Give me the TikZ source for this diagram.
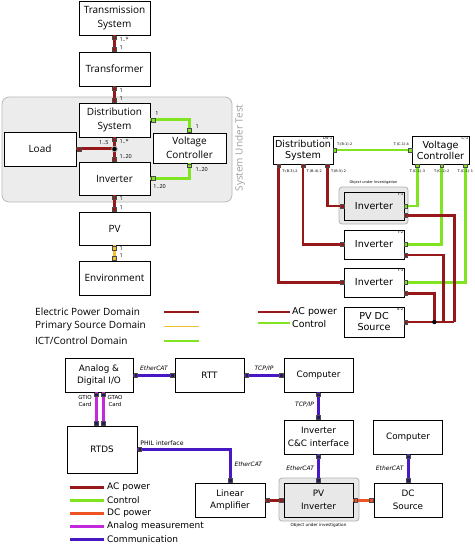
\documentclass[tikz,border=0pt]{standalone}
\usepackage{fontspec}
\setmainfont{DejaVu Sans}[ItalicFont={DejaVu Sans Oblique},BoldFont={DejaVu Sans Bold}]
\newfontfamily\opensans{Open Sans}
\usetikzlibrary{calc}
\definecolor{acred}{RGB}{150,24,24}
\definecolor{ctlgreen}{RGB}{128,228,32}
\definecolor{srcyellow}{RGB}{242,192,48}
\definecolor{dcorange}{RGB}{240,84,36}
\definecolor{anamag}{RGB}{196,40,220}
\definecolor{commblue}{RGB}{72,24,196}
\definecolor{portdark}{RGB}{40,24,100}
\definecolor{sutgrey}{RGB}{236,236,236}
\definecolor{ouigrey}{RGB}{232,232,232}
\newcommand\portsq[2]{\filldraw[draw=black!70,line width=.5pt,fill=#1] #2 ++(-1.8,-1.8) rectangle ++(3.6,3.6);}
\begin{document}
\begin{tikzpicture}[x=1pt,y=-1pt,
  box/.style={draw,line width=.9pt,fill=white,align=center,inner sep=1pt},
  tlbox/.style={box,font=\opensans\fontsize{10}{13.5}\selectfont,minimum width=71pt,minimum height=34pt},
  rbox/.style={box,line width=.8pt,font=\fontsize{9.6}{11}\selectfont,minimum width=60pt,minimum height=29pt},
  bbox/.style={box,line width=.8pt,font=\fontsize{8.8}{12.5}\selectfont,minimum width=69pt,minimum height=34pt},
  mult/.style={text=black,font=\opensans\fontsize{5.5}{6}\selectfont,inner sep=.5pt},
  tag/.style={text=black,font=\fontsize{4}{4}\selectfont,inner sep=.8pt},
  tname/.style={text=black,font=\fontsize{3.5}{4}\selectfont,inner sep=.5pt},
  lbl/.style={text=black,font=\itshape\fontsize{6}{7}\selectfont,inner sep=1pt},
  lbl2/.style={text=black,font=\fontsize{5.5}{7}\selectfont,align=center,inner sep=.5pt},
  tlleg/.style={font=\opensans\fontsize{10}{12}\selectfont,inner sep=0pt,anchor=west},
  leg/.style={font=\fontsize{9}{10}\selectfont,inner sep=0pt,anchor=west},
  pwr/.style={acred,line width=3pt},
  src/.style={srcyellow,line width=3pt},
  ctl/.style={ctlgreen,line width=3pt},
  pwrr/.style={acred,line width=2.5pt},
  ctlr/.style={ctlgreen,line width=2.5pt},
  dcp/.style={dcorange,line width=3pt},
  ana/.style={anamag,line width=3pt},
  comm/.style={commblue,line width=3pt},
  oui/.style={draw=gray!60,fill=gray!18,rounded corners=3pt,line width=.8pt}]
\useasboundingbox (0,0) rectangle (474,545);

\draw[rounded corners=7pt,fill=sutgrey,draw=gray!55,line width=.8pt] (2,97) rectangle (232,202);
\node[rotate=90,text=gray!75,font=\opensans\fontsize{10}{12}\selectfont] (sut) at (240,148) {System Under Test};

\node[tlbox] (trans) at (114.5,18) {Transmission\\System};
\node[tlbox] (xfmr) at (114.5,69) {Transformer};
\node[tlbox] (dist) at (114.5,120) {Distribution\\System};
\node[tlbox,minimum width=72pt] (load) at (40,149) {Load};
\node[tlbox,minimum width=73pt,minimum height=30pt] (vc) at (189.5,148) {Voltage\\Controller};
\node[tlbox,minimum height=33pt] (inv) at (114.5,178.5) {Inverter};
\node[tlbox,minimum height=33pt] (pv) at (114.5,228.5) {PV};
\node[tlbox] (env) at (114.5,278) {Environment};
\coordinate (jct) at (dist.south |- load.east);

\draw[pwr] (trans.south) -- node[mult,pos=.25,right=3pt] {1..*} node[mult,pos=.75,right=3pt] {1} (xfmr.north);
\draw[pwr] (xfmr.south) -- node[mult,pos=.24,right=3pt] {1} node[mult,pos=.72,right=3pt] {1} (dist.north);
\draw[pwr] (dist.south) -- node[mult,pos=.16,right=3pt] {1..*} node[mult,pos=.8,right=3pt] {1..20} (inv.north);
\draw[pwr] (load.east) -- node[mult,pos=.72,above=2pt] {1..5} (jct);
\draw[pwr] (inv.south) -- node[mult,pos=.2,right=3pt] {1} node[mult,pos=.76,right=3pt] {1} (pv.north);
\draw[src] (pv.south) -- node[mult,pos=.2,right=3pt] {1} node[mult,pos=.7,right=3pt] {1} (env.north);
\draw[ctl] (dist.east) -| node[mult,at start,anchor=south west,xshift=3pt,yshift=2pt] {1}
  node[mult,at end,anchor=south west,xshift=4pt,yshift=2pt] {1} (vc.north);
\draw[ctl] (vc.south) |- node[mult,at start,anchor=north west,xshift=4pt,yshift=-2pt] {1..20}
  node[mult,at end,anchor=north west,xshift=1pt,yshift=-4pt] {1..20} (inv.east);
\filldraw[fill=black,draw=gray!60,line width=.8pt] (jct) circle (2.8);

\portsq{acred}{($(trans.south)+(0,2.5)$)}
\portsq{acred}{($(xfmr.north)+(0,-2.5)$)}
\portsq{acred}{($(xfmr.south)+(0,2.5)$)}
\portsq{acred}{($(dist.north)+(0,-2.5)$)}
\portsq{acred}{($(dist.south)+(0,2.5)$)}
\portsq{acred}{($(inv.north)+(0,-2.5)$)}
\portsq{acred}{($(load.east)+(2.5,0)$)}
\portsq{acred}{($(inv.south)+(0,2.5)$)}
\portsq{acred}{($(pv.north)+(0,-2.5)$)}
\portsq{srcyellow}{($(pv.south)+(0,2.5)$)}
\portsq{srcyellow}{($(env.north)+(0,-2.5)$)}
\portsq{ctlgreen}{($(dist.east)+(2.5,0)$)}
\portsq{ctlgreen}{($(vc.north)+(0,-2.5)$)}
\portsq{ctlgreen}{($(vc.south)+(0,2.5)$)}
\portsq{ctlgreen}{($(inv.east)+(2.5,0)$)}

\node[tlleg] (lgep) at (35,312) {Electric Power Domain};
\node[tlleg] (lgps) at (35,326.5) {Primary Source Domain};
\node[tlleg] (lgct) at (35,341) {ICT/Control Domain};
\draw[acred,line width=1.3pt] (164,312) -- (199,312);
\draw[srcyellow,line width=1.3pt] (164,326.5) -- (199,326.5);
\draw[ctlgreen,line width=1.3pt] (164,341) -- (199,341);

\draw[oui] (339,187) rectangle (408,224);
\node[tname,font=\fontsize{3.6}{4}\selectfont] (ouir) at (373.5,183) {Object under Investigation};
\node[rbox,minimum height=28pt] (dsr) at (303,150) {Distribution\\System};
\node[rbox,minimum width=57pt,minimum height=28pt] (vcr) at (440.5,150) {Voltage\\Controller};
\node[rbox,minimum height=28pt,fill=ouigrey] (i1) at (374,206) {Inverter};
\node[rbox] (i2) at (374,244.5) {Inverter};
\node[rbox] (i3) at (374,282.5) {Inverter};
\node[rbox,minimum height=30pt] (pvdc) at (374,322) {PV DC\\Source};
\node[tag,anchor=north east] (tds) at (dsr.north east) {DS-1};
\node[tag,anchor=north east] (tvc) at (vcr.north east) {C-1};
\node[tag,anchor=north east] (ti1) at (i1.north east) {I-1};
\node[tag,anchor=north east] (ti2) at (i2.north east) {I-2};
\node[tag,anchor=north east] (ti3) at (i3.north east) {I-3};
\node[tag,anchor=north east] (tpv) at (pvdc.north east) {S-2};

\coordinate (dsp1) at ($(dsr.south west)!.1!(dsr.south east)$);
\coordinate (dsp2) at (dsr.south);
\coordinate (dsp3) at ($(dsr.south west)!.9!(dsr.south east)$);
\coordinate (vcp1) at ($(vcr.south west)!.1!(vcr.south east)$);
\coordinate (vcp2) at ($(vcr.south west)!.52!(vcr.south east)$);
\coordinate (vcp3) at ($(vcr.south west)!.93!(vcr.south east)$);
\coordinate (i1o) at ($(i1.east)+(0,9.5)$);
\coordinate (i2o) at ($(i2.east)+(0,10.5)$);
\coordinate (i3o) at ($(i3.east)+(0,11)$);
\coordinate (bus1) at ($(pvdc.east)+(30,0)$);
\coordinate (bus2) at ($(pvdc.east)+(39,0)$);
\coordinate (bus3) at ($(pvdc.east)+(50,0)$);

\draw[ctlr] (dsr.east) -- (vcr.west);
\draw[pwrr] (dsp1) |- (i3.west);
\draw[pwrr] (dsp2) |- (i2.west);
\draw[pwrr] (dsp3) |- (i1.west);
\draw[ctlr] (vcp1) |- (i1.east);
\draw[ctlr] (vcp2) |- (i2.east);
\draw[ctlr] (vcp3) |- (i3.east);
\draw[pwrr] (i3o) -| (bus1);
\draw[pwrr] (i2o) -| (bus2);
\draw[pwrr] (i1o) -| (bus3);
\draw[pwrr] (pvdc.east) -- (bus3);
\fill (bus1) circle (2.2);

\node[tname,anchor=west] (nb1) at ($(dsr.east)+(3,-6)$) {T-(B-1)-2};
\node[tname,anchor=east] (nc4) at ($(vcr.west)+(-2,-6)$) {T-(C-1)-4};
\node[tname,anchor=west] (nb3) at ($(dsp1)+(3,7)$) {T-(B-3)-2};
\node[tname,anchor=west] (nb4) at ($(dsp2)+(3,7)$) {T-(B-4)-2};
\node[tname,anchor=west] (nb5) at ($(dsp3)+(3,7)$) {T-(B-5)-2};
\node[tname] (nc3) at ($(vcp1)+(0,7)$) {T-(C-1)-3};
\node[tname] (nc2) at ($(vcp2)+(0,7)$) {T-(C-1)-2};
\node[tname] (nc1) at ($(vcp3)+(0,7)$) {T-(C-1)-1};

\portsq{ctlgreen}{($(dsr.east)+(1.5,0)$)}
\portsq{ctlgreen}{($(vcr.west)+(-1.5,0)$)}
\portsq{acred}{($(dsp1)+(0,1.5)$)}
\portsq{acred}{($(dsp2)+(0,1.5)$)}
\portsq{acred}{($(dsp3)+(0,1.5)$)}
\portsq{ctlgreen}{($(vcp1)+(0,1.5)$)}
\portsq{ctlgreen}{($(vcp2)+(0,1.5)$)}
\portsq{ctlgreen}{($(vcp3)+(0,1.5)$)}
\portsq{acred}{($(i1.west)+(-1.5,0)$)}
\portsq{acred}{($(i2.west)+(-1.5,0)$)}
\portsq{acred}{($(i3.west)+(-1.5,0)$)}
\portsq{ctlgreen}{($(i1.east)+(1.5,0)$)}
\portsq{ctlgreen}{($(i2.east)+(1.5,0)$)}
\portsq{ctlgreen}{($(i3.east)+(1.5,0)$)}
\portsq{acred}{($(i1o)+(1.5,0)$)}
\portsq{acred}{($(i2o)+(1.5,0)$)}
\portsq{acred}{($(i3o)+(1.5,0)$)}
\portsq{acred}{($(pvdc.east)+(1.5,0)$)}

\draw[pwrr] (258,312) -- (290,312);
\draw[ctlr] (258,323) -- (290,323);
\node[leg,font=\fontsize{9.4}{10}\selectfont] (lrac) at (292,312) {AC power};
\node[leg,font=\fontsize{9.4}{10}\selectfont] (lrct) at (292,323.5) {Control};

\draw[oui] (279,478) rectangle (359,521);
\node[tname,font=\fontsize{4.2}{5}\selectfont] (ouib) at (318.5,525.5) {Object under investigation};
\node[bbox,minimum width=68pt] (adio) at (99,375) {Analog \&\\Digital I/O};
\node[bbox] (rtt) at (209.5,375) {RTT};
\node[bbox] (comp1) at (318.5,375) {Computer};
\node[bbox,minimum width=70pt,minimum height=47pt] (rtds) at (102,449.5) {RTDS};
\node[bbox] (cci) at (318.5,437) {Inverter\\C\&C interface};
\node[bbox] (comp2) at (408,437) {Computer};
\node[bbox,minimum width=70pt] (linamp) at (230,500) {Linear\\Amplifier};
\node[bbox,fill=ouigrey] (pvinv) at (318.5,500) {PV\\Inverter};
\node[bbox,minimum width=68pt] (dcs) at (408,500) {DC\\Source};

\coordinate (gtio) at ($(adio.south)+(-3,0)$);
\coordinate (gtao) at ($(adio.south)+(4,0)$);
\draw[comm] (adio.east) -- node[lbl,above=1.5pt] {EtherCAT} (rtt.west);
\draw[comm] (rtt.east) -- node[lbl,above=1.5pt] {TCP/IP} (comp1.west);
\draw[comm] (comp1.south) -- node[lbl,left=2pt,pos=.45] {TCP/IP} (cci.north);
\draw[ana] (gtio) -- (gtio |- rtds.north);
\draw[ana] (gtao) -- (gtao |- rtds.north);
\draw[comm] (rtds.east) -| node[lbl2,font=\fontsize{6.2}{7}\selectfont,at start,anchor=south west,xshift=1pt,yshift=2pt] {PHIL interface}
  node[lbl,pos=.73,right=2pt] {EtherCAT} (linamp.north);
\draw[comm] (cci.south) -- node[lbl,left=2pt,pos=.48] {EtherCAT} (pvinv.north);
\draw[comm] (comp2.south) -- node[lbl,left=2pt,pos=.48] {EtherCAT} (dcs.north);
\draw[pwr] (linamp.east) -- (pvinv.west);
\draw[dcp] (pvinv.east) -- (dcs.west);
\node[lbl2] (lgtio) at (85,400.5) {GTIO\\Card};
\node[lbl2] (lgtao) at (115,400.5) {GTAO\\Card};

\portsq{portdark}{($(adio.east)+(2.3,0)$)}
\portsq{portdark}{($(rtt.west)+(-2.3,0)$)}
\portsq{portdark}{($(rtt.east)+(2.3,0)$)}
\portsq{portdark}{($(comp1.west)+(-2.3,0)$)}
\portsq{portdark}{($(comp1.south)+(0,2.3)$)}
\portsq{portdark}{($(cci.north)+(0,-2.3)$)}
\portsq{portdark}{($(gtio)+(0,2.3)$)}
\portsq{portdark}{($(gtao)+(0,2.3)$)}
\portsq{portdark}{($(gtio |- rtds.north)+(0,-2.3)$)}
\portsq{portdark}{($(gtao |- rtds.north)+(0,-2.3)$)}
\portsq{portdark}{($(rtds.east)+(2.3,0)$)}
\portsq{portdark}{($(linamp.north)+(0,-2.3)$)}
\portsq{portdark}{($(cci.south)+(0,2.3)$)}
\portsq{portdark}{($(pvinv.north)+(0,-2.3)$)}
\portsq{portdark}{($(comp2.south)+(0,2.3)$)}
\portsq{portdark}{($(dcs.north)+(0,-2.3)$)}
\portsq{acred}{($(linamp.east)+(2.3,0)$)}
\portsq{acred}{($(pvinv.west)+(-2.3,0)$)}
\portsq{dcorange}{($(pvinv.east)+(2.3,0)$)}
\portsq{dcorange}{($(dcs.west)+(-2.3,0)$)}

\draw[pwr] (70,487.5) -- (104,487.5);
\draw[ctl] (70,500.5) -- (104,500.5);
\draw[dcp] (70,513.5) -- (104,513.5);
\draw[ana] (70,526.5) -- (104,526.5);
\draw[comm] (70,539.5) -- (104,539.5);
\node[leg] (lbac) at (107,487.5) {AC power};
\node[leg] (lbct) at (107,500.5) {Control};
\node[leg] (lbdc) at (107,513.5) {DC power};
\node[leg] (lban) at (107,526.5) {Analog measurement};
\node[leg] (lbcm) at (107,539.5) {Communication};
\end{tikzpicture}
\end{document}
